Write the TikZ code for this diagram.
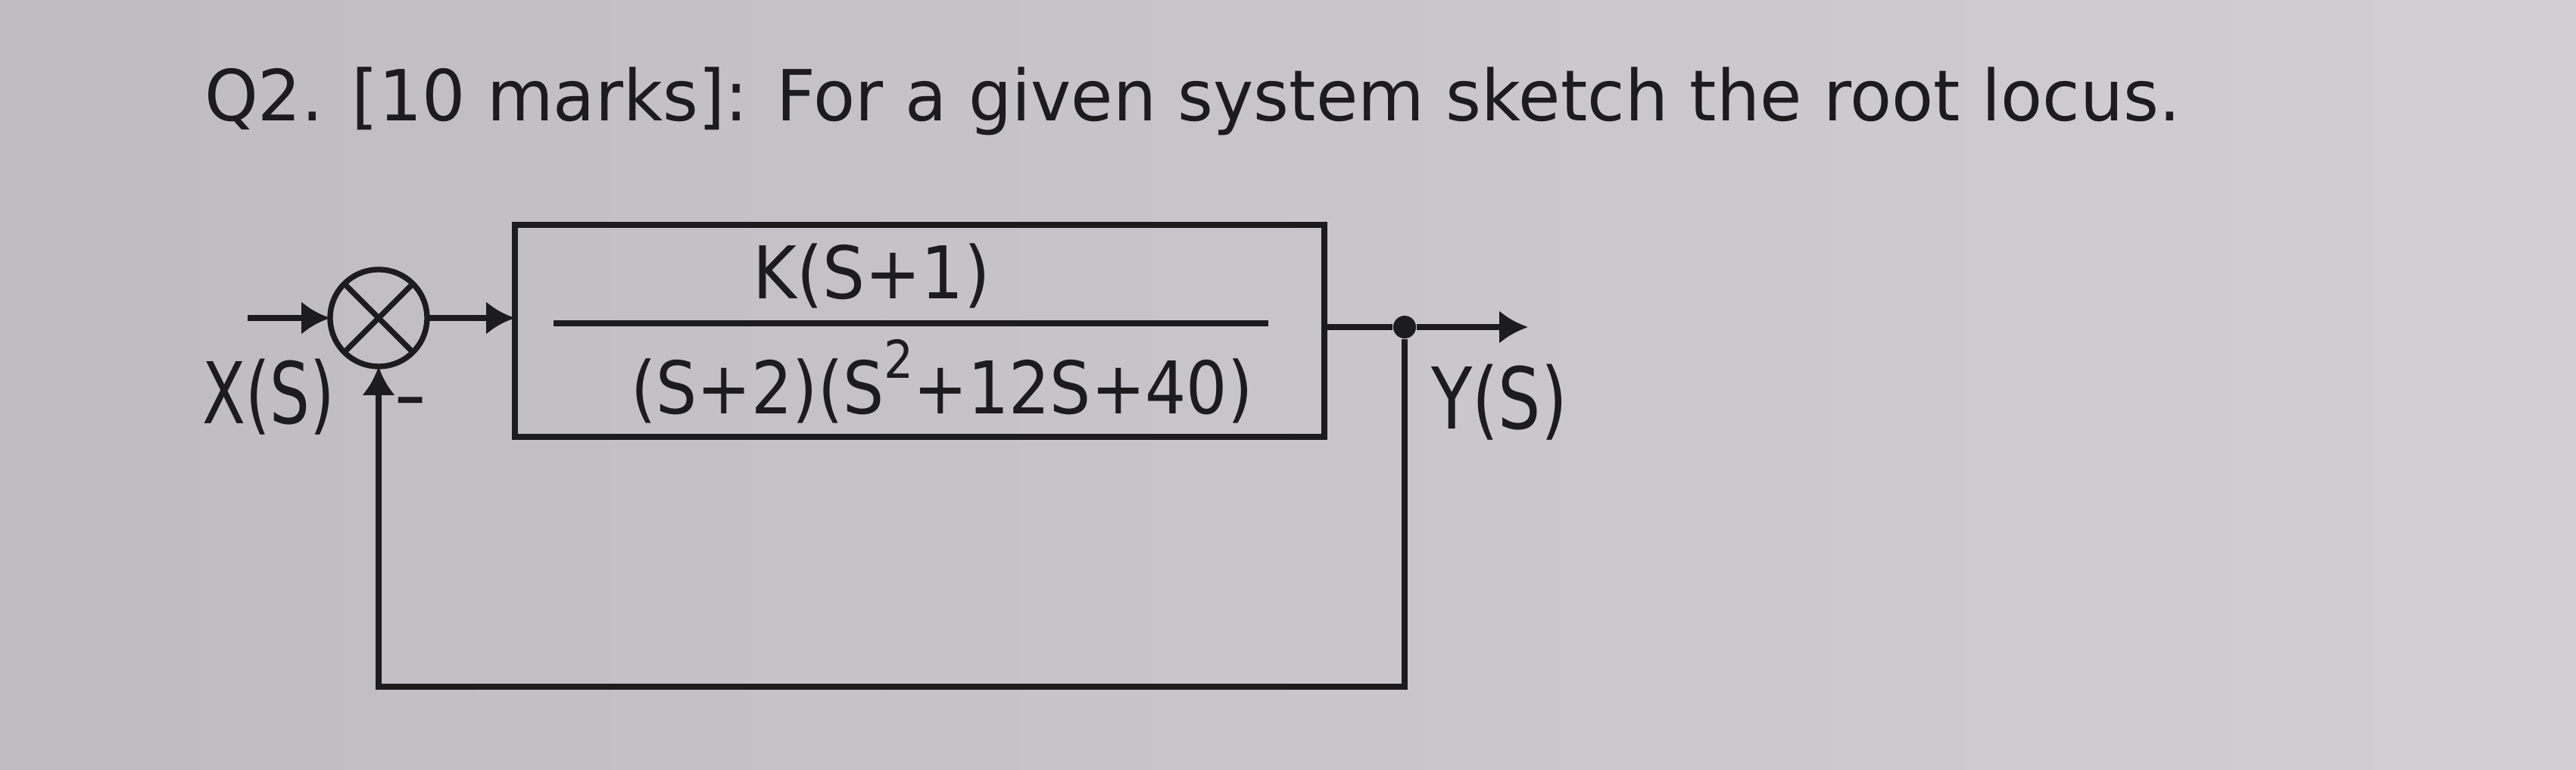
\documentclass[tikz,border=0pt]{standalone}
\usepackage{fontspec}
\usepackage{graphicx}
\setmainfont{DejaVu Sans}
\usetikzlibrary{arrows.meta,calc}
\definecolor{bgL}{RGB}{190,187,193}
\definecolor{bgR}{RGB}{209,206,212}
\definecolor{ink}{RGB}{28,27,30}
\begin{document}
\begin{tikzpicture}[x=1cm,y=1cm,
  wire/.style={draw=ink,line width=2.1pt},
  arr/.style={wire,-{Latex[length=3.8mm,width=4.4mm]}},
  lbl/.style={text=ink,inner sep=0pt,outer sep=0pt},
  big/.style={lbl,font=\fontsize{32}{32}\selectfont},
  mid/.style={lbl,font=\fontsize{27.3}{28}\selectfont}
]
\shade[left color=bgL,right color=bgR] (0,0) rectangle (34.02,-10.17);
\useasboundingbox (0,0) rectangle (34.02,-10.17);

\node[lbl,anchor=base west,font=\fontsize{26.5}{30}\selectfont] (title) at (2.70,-1.60)
  {\scalebox{0.967}[1]{Q2. [10 marks]: For a given system sketch the root locus.}};

\node[circle,draw=ink,line width=2.1pt,minimum size=1.28cm,inner sep=0pt,outer sep=0pt] (sum) at (5.00,-4.20) {};
\draw[wire] (sum.north west) -- (sum.south east);
\draw[wire] (sum.north east) -- (sum.south west);

\coordinate (in) at (3.27,-4.20);
\draw[arr] (in) -- (sum.west);

\node[draw=ink,line width=2.4pt,minimum width=10.69cm,minimum height=2.8cm,inner sep=0pt,outer sep=0pt] (blk) at (12.145,-4.37) {};
\draw[arr] (sum.east) -- (sum.east -| blk.west);

\coordinate (fracL) at (7.31,-4.27);
\coordinate (fracR) at (16.75,-4.27);
\draw[wire] (fracL) -- (fracR);
\node[mid,anchor=base] (num) at (11.51,-3.95) {\scalebox{0.92}[1]{K(S+1)}};
\node[mid,anchor=base] (den) at (12.44,-5.47)
  {\scalebox{0.89}[1]{(S+2)(S\raisebox{0.47cm}{\fontsize{19.6}{20}\selectfont 2}+12S+40)}};

\node[circle,fill=ink,minimum size=0.3cm,inner sep=0pt] (dot) at (18.55,-4.32) {};
\draw[wire] (blk.east |- dot) -- (dot);
\coordinate (out) at (20.18,-4.32);
\draw[arr] (dot) -- (out);

\coordinate (fb) at (18.55,-9.07);
\draw[arr] (dot) -- (fb) -| (sum.south);

\node[big,anchor=base west] (xs) at (2.67,-5.60) {\scalebox{0.74}[1]{X(S)}};
\node[big,anchor=base west] (ys) at (18.90,-5.67) {\scalebox{0.79}[1]{Y(S)}};
\node[big,anchor=base] (minus) at (5.42,-5.60) {\scalebox{0.7}[1]{–}};
\end{tikzpicture}
\end{document}
